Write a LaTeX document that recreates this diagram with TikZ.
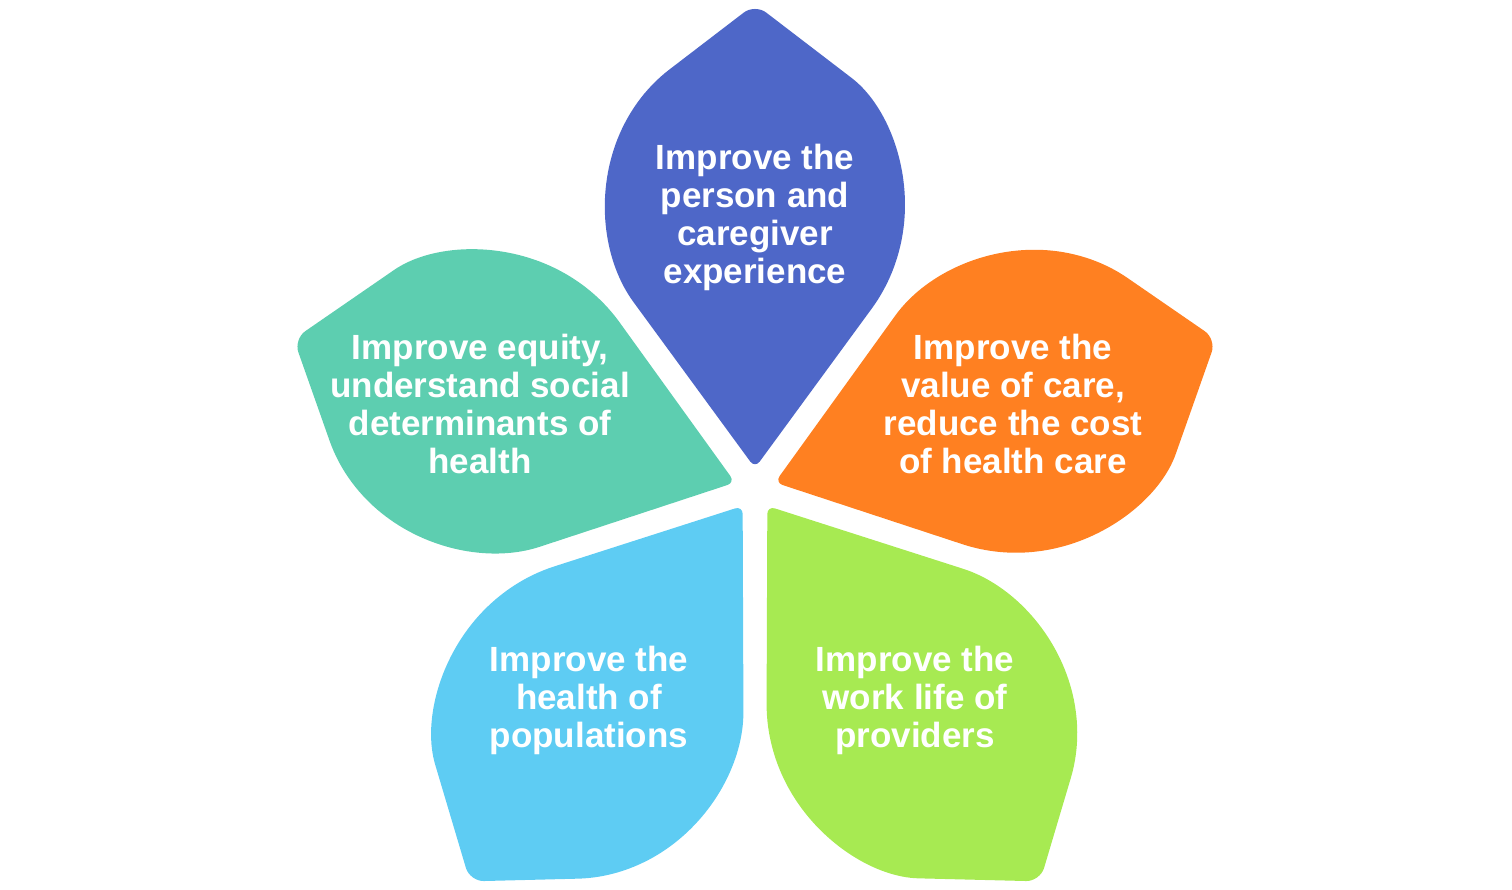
\documentclass[tikz,border=0pt]{standalone}
\usepackage{fontspec}
\setmainfont{Liberation Sans}
\definecolor{cTop}{HTML}{4E67C8}
\definecolor{cOrange}{HTML}{FF8021}
\definecolor{cLime}{HTML}{A7EA52}
\definecolor{cBlue}{HTML}{5ECCF3}
\definecolor{cTeal}{HTML}{5DCEB0}
\begin{document}
\begin{tikzpicture}[x=1pt,y=1pt,
  lbl/.style={text=white,font=\fontsize{35}{38}\selectfont\bfseries,align=center,inner sep=0pt}]
\useasboundingbox (-755,-400) rectangle (757,489);
\foreach \ang/\col in {0/cTop,72/cTeal,144/cBlue,216/cLime,288/cOrange}{
  \begin{scope}[rotate=\ang]
    \fill[\col] (58.4,100.75) [rounded corners=8pt] -- (0,21) -- (-116.8,180.5) [sharp corners]
      arc[start angle=218.85,end angle=124.85,x radius=150pt,y radius=165pt]
      [rounded corners=14pt] -- (0,485) -- (85.7,419.4) [sharp corners]
      arc[start angle=55.15,end angle=-38.85,x radius=150pt,y radius=165pt] -- cycle;
  \end{scope}
}
\node[lbl] (t1) at (0,272) {Improve the\\person and\\caregiver\\experience};
\node[lbl] (t2) at (-275,85) {Improve equity,\\understand social\\determinants of\\health};
\node[lbl] (t3) at (258,85) {Improve the\\value of care,\\reduce the cost\\of health care};
\node[lbl] (t4) at (-166,-211) {Improve the\\health of\\populations};
\node[lbl] (t5) at (160,-211) {Improve the\\work life of\\providers};
\end{tikzpicture}
\end{document}
